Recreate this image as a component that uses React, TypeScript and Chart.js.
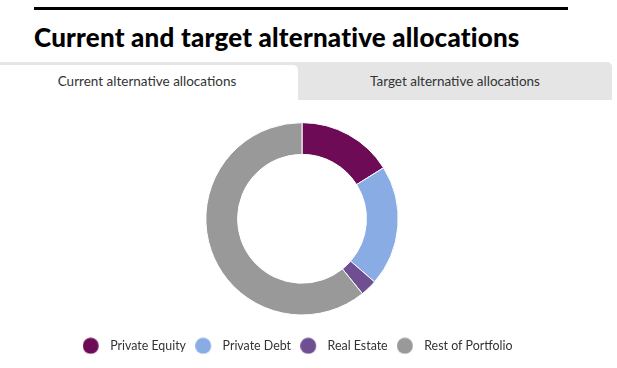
import React, { useEffect, useRef } from "react";
import { Chart, registerables } from "chart.js";

Chart.register(...registerables);

const categories = ["Private Equity", "Private Debt", "Real Estate", "Rest of Portfolio"];
const currentValues = [16.1, 20.3, 2.8, 60.8];
const sliceColors = ["#6e0b56", "#88ace3", "#6f4f92", "#999999"];
const titleText = "Current and target alternative allocations";
const tabLabels = ["Current alternative allocations", "Target alternative allocations"];

function makeDot(color: string): HTMLCanvasElement {
  const c = document.createElement("canvas");
  c.width = 30;
  c.height = 17;
  const ctx = c.getContext("2d")!;
  ctx.fillStyle = color;
  ctx.beginPath();
  ctx.arc(8, 8.5, 8, 0, Math.PI * 2);
  ctx.fill();
  return c;
}

export default function App() {
  const ref = useRef<HTMLCanvasElement | null>(null);

  useEffect(() => {
    document.body.style.margin = "0";
    const dots = sliceColors.map(makeDot);
    const chart = new Chart(ref.current!, {
      type: "doughnut",
      data: {
        labels: categories,
        datasets: [
          {
            data: currentValues,
            backgroundColor: sliceColors,
            borderColor: "#ffffff",
            borderWidth: 1,
          },
        ],
      },
      options: {
        responsive: false,
        animation: false,
        cutout: "67%",
        radius: "94%",
        layout: { padding: { top: 16, bottom: 6, left: 0, right: 0 } },
        plugins: {
          tooltip: { enabled: false },
          legend: {
            position: "bottom",
            labels: {
              usePointStyle: true,
              padding: 18,
              color: "#333333",
              font: { family: "Lato", size: 12.4 },
              generateLabels: (ch: any) =>
                categories.map((t, i) => ({
                  text: t,
                  fillStyle: sliceColors[i],
                  strokeStyle: sliceColors[i],
                  lineWidth: 0,
                  pointStyle: dots[i],
                  hidden: false,
                  index: i,
                  fontColor: "#333333",
                })),
            },
          },
        },
      },
    });
    return () => chart.destroy();
  }, []);

  return (
    <div style={{ position: "absolute", left: 0, top: 0, width: 617, height: 368, background: "#fff", overflow: "hidden" }}>
      <div style={{ position: "absolute", left: 34, top: 7, width: 534, height: 3, background: "#000" }} />
      <div
        style={{
          position: "absolute",
          left: 34,
          top: 18,
          fontFamily: "Lato",
          fontWeight: 900,
          fontSize: 26,
          letterSpacing: 0.2,
          lineHeight: "38px",
          color: "#000",
          whiteSpace: "nowrap",
        }}
      >
        {titleText}
      </div>
      <div style={{ position: "absolute", left: 0, top: 62, width: 612, height: 38, background: "#e5e5e5", borderTopRightRadius: 5 }} />
      <div style={{ position: "absolute", left: 0, top: 65, width: 298, height: 35, background: "#ffffff", borderTopRightRadius: 5 }} />
      <div
        style={{
          position: "absolute",
          left: 0,
          top: 65,
          width: 294,
          height: 33,
          lineHeight: "33px",
          textAlign: "center",
          fontFamily: "Lato",
          fontSize: 13.5,
          color: "#333",
        }}
      >
        {tabLabels[0]}
      </div>
      <div
        style={{
          position: "absolute",
          left: 298,
          top: 65,
          width: 314,
          height: 33,
          lineHeight: "33px",
          textAlign: "center",
          fontFamily: "Lato",
          fontSize: 13.5,
          color: "#333",
        }}
      >
        {tabLabels[1]}
      </div>
      <canvas ref={ref} width={604} height={268} style={{ position: "absolute", left: 0, top: 100, width: 604, height: 268 }} />
    </div>
  );
}
